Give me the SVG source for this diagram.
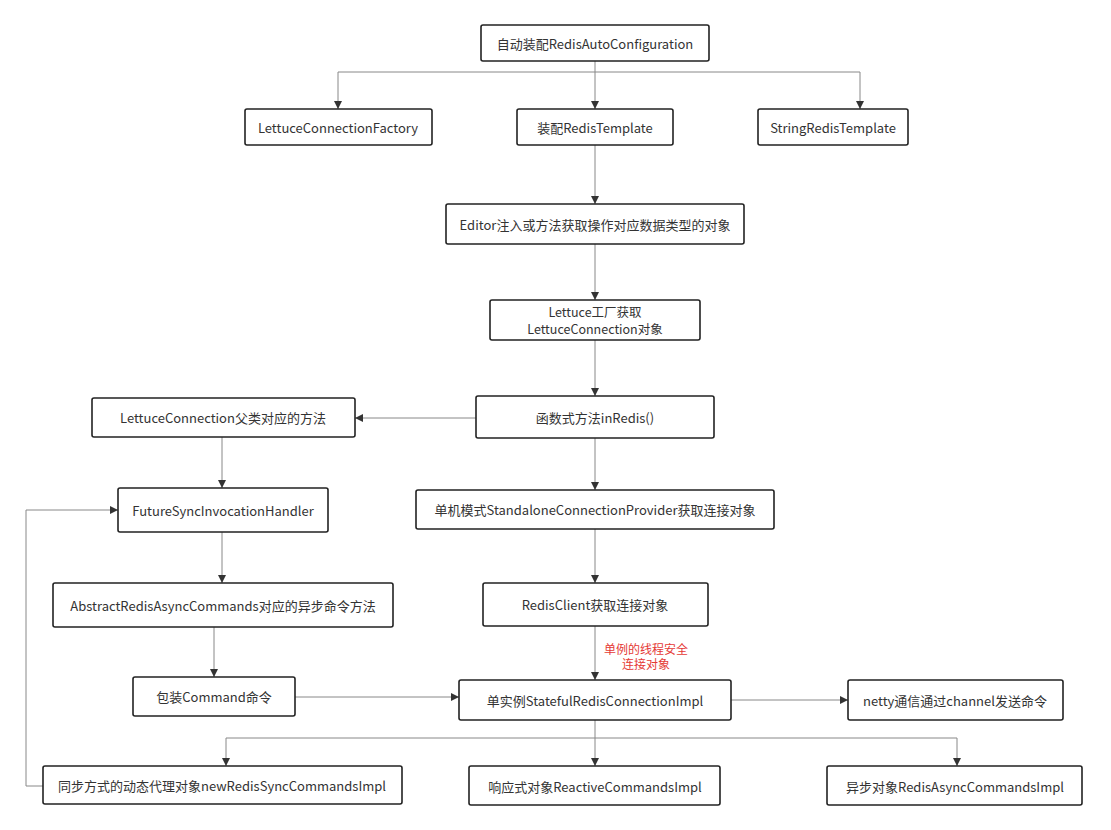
<svg xmlns="http://www.w3.org/2000/svg" width="1111" height="830" viewBox="0 0 1111 830">
<style>
.n rect{fill:#fff;stroke:#222;stroke-width:1.6}
.n text{font-family:"Noto Sans CJK SC","Noto Sans",sans-serif;font-size:13px;fill:#333;text-anchor:middle;dominant-baseline:central}
.c path{fill:none;stroke:#888;stroke-width:1}
.lbl{font-family:"Noto Sans CJK SC",sans-serif;font-size:12px;fill:#e53935;text-anchor:middle}
</style>
<defs><marker id="a" viewBox="0 0 10 10" refX="10" refY="5" markerWidth="8" markerHeight="8" orient="auto" markerUnits="userSpaceOnUse"><path d="M0,0L10,5L0,10z" fill="#333"/></marker></defs>
<rect width="1111" height="830" fill="#fff"/>
<g class="c">
<path d="M595,61V72H338V109" marker-end="url(#a)"/>
<path d="M595,72V109" marker-end="url(#a)"/>
<path d="M595,72H860V109" marker-end="url(#a)"/>
<path d="M595,145V204" marker-end="url(#a)"/>
<path d="M595,244V300" marker-end="url(#a)"/>
<path d="M595,340V396" marker-end="url(#a)"/>
<path d="M476,418H355" marker-end="url(#a)"/>
<path d="M595,438V490" marker-end="url(#a)"/>
<path d="M222,437V488" marker-end="url(#a)"/>
<path d="M222,532V583" marker-end="url(#a)"/>
<path d="M214,627V677" marker-end="url(#a)"/>
<path d="M595,529V583" marker-end="url(#a)"/>
<path d="M595,626V680" marker-end="url(#a)"/>
<path d="M295,697H459" marker-end="url(#a)"/>
<path d="M731,700H848" marker-end="url(#a)"/>
<path d="M595,720V738H226V766" marker-end="url(#a)"/>
<path d="M595,738V766" marker-end="url(#a)"/>
<path d="M595,738H957V766" marker-end="url(#a)"/>
<path d="M43,786H26V510H118" marker-end="url(#a)"/>
<text class="lbl" x="646" y="654">单例的线程安全</text>
<text class="lbl" x="646" y="669">连接对象</text>
</g>
<g id="n1" class="n"><rect x="481" y="25" width="228" height="36" rx="2"/><text x="595" y="43">自动装配RedisAutoConfiguration</text></g>
<g id="n2" class="n"><rect x="245" y="109" width="187" height="36" rx="2"/><text x="338" y="127">LettuceConnectionFactory</text></g>
<g id="n3" class="n"><rect x="517" y="109" width="156" height="36" rx="2"/><text x="595" y="127">装配RedisTemplate</text></g>
<g id="n4" class="n"><rect x="758" y="109" width="150" height="36" rx="2"/><text x="833" y="127">StringRedisTemplate</text></g>
<g id="n5" class="n"><rect x="446" y="204" width="298" height="40" rx="2"/><text x="595" y="224">Editor注入或方法获取操作对应数据类型的对象</text></g>
<g id="n6" class="n"><rect x="490" y="300" width="210" height="40" rx="2"/><text x="595" y="311" style="font-size:12.5px">Lettuce工厂获取</text><text x="595" y="328" style="font-size:12.5px">LettuceConnection对象</text></g>
<g id="n7" class="n"><rect x="476" y="396" width="238" height="42" rx="2"/><text x="595" y="417">函数式方法inRedis()</text></g>
<g id="n8" class="n"><rect x="92" y="398" width="263" height="39" rx="2"/><text x="223" y="417">LettuceConnection父类对应的方法</text></g>
<g id="n9" class="n"><rect x="118" y="488" width="210" height="44" rx="2"/><text x="223" y="510">FutureSyncInvocationHandler</text></g>
<g id="n10" class="n"><rect x="416" y="490" width="358" height="39" rx="2"/><text x="595" y="509">单机模式StandaloneConnectionProvider获取连接对象</text></g>
<g id="n11" class="n"><rect x="53" y="583" width="340" height="44" rx="2"/><text x="223" y="605">AbstractRedisAsyncCommands对应的异步命令方法</text></g>
<g id="n12" class="n"><rect x="483" y="583" width="225" height="43" rx="2"/><text x="595" y="604">RedisClient获取连接对象</text></g>
<g id="n13" class="n"><rect x="133" y="677" width="162" height="39" rx="2"/><text x="214" y="696">包装Command命令</text></g>
<g id="n14" class="n"><rect x="459" y="680" width="272" height="40" rx="2"/><text x="595" y="700">单实例StatefulRedisConnectionImpl</text></g>
<g id="n15" class="n"><rect x="848" y="680" width="215" height="40" rx="2"/><text x="955" y="700">netty通信通过channel发送命令</text></g>
<g id="n16" class="n"><rect x="43" y="766" width="359" height="38" rx="2"/><text x="222" y="785">同步方式的动态代理对象newRedisSyncCommandsImpl</text></g>
<g id="n17" class="n"><rect x="469" y="766" width="251" height="39" rx="2"/><text x="595" y="786">响应式对象ReactiveCommandsImpl</text></g>
<g id="n18" class="n"><rect x="827" y="766" width="255" height="39" rx="2"/><text x="955" y="786">异步对象RedisAsyncCommandsImpl</text></g>
</svg>
